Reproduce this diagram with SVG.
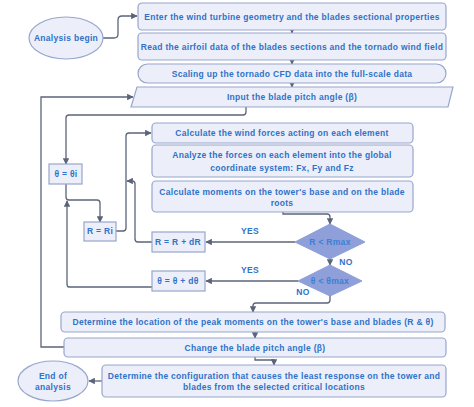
<svg xmlns="http://www.w3.org/2000/svg" width="474" height="407" viewBox="0 0 474 407">
<defs>
<style>
.b{fill:#eceff9;stroke:#98a6cc;stroke-width:1.2}
.d{fill:#8e9fd9;stroke:#8e9fd9}
.t{font-family:"Liberation Sans",Arial,sans-serif;font-weight:bold;font-size:8.5px;letter-spacing:0.3px;fill:#2f72c8;text-anchor:middle;dominant-baseline:central}
.dt{fill:#3b7fd6}
.c{fill:none;stroke:#5b6479;stroke-width:1.3}
.l{font-family:"Liberation Sans",Arial,sans-serif;font-weight:bold;font-size:8.5px;letter-spacing:0.3px;fill:#2f72c8;text-anchor:middle;dominant-baseline:central}
</style>
<marker id="a" viewBox="0 0 10 10" refX="9" refY="5" markerWidth="5" markerHeight="5" orient="auto"><path d="M0,0L10,5L0,10z" fill="#5b6479"/></marker>
</defs>
<rect width="474" height="407" fill="#ffffff"/>
<g id="connectors">
<path class="c" d="M103,38H114Q118,38 118,34V20Q118,16 122,16H137" marker-end="url(#a)"/>
<path class="c" d="M292,30V33" marker-end="url(#a)"/>
<path class="c" d="M292,60V64" marker-end="url(#a)"/>
<path class="c" d="M292,83V87" marker-end="url(#a)"/>
<path class="c" d="M64,347H41V97H133" marker-end="url(#a)"/>
<path class="c" d="M246,107V112Q246,115 243,115H69Q66,115 66,118V164" marker-end="url(#a)"/>
<path class="c" d="M66,184V197Q66,200 69,200H97Q100,200 100,203V222" marker-end="url(#a)"/>
<path class="c" d="M116,231H123Q126,231 126,228V136Q126,133 129,133H151" marker-end="url(#a)"/>
<path class="c" d="M152,242H138Q135,242 135,239V184Q135,181 132,181H127" marker-end="url(#a)"/>
<path class="c" d="M160,287H69Q67,287 67,284V201" marker-end="url(#a)"/>
<path class="c" d="M283,212V214H327Q330,214 330,217V224" marker-end="url(#a)"/>
<path class="c" d="M295,242H206" marker-end="url(#a)"/>
<path class="c" d="M330,259V265" marker-end="url(#a)"/>
<path class="c" d="M298,281H206" marker-end="url(#a)"/>
<path class="c" d="M330,295V300Q330,303 327,303H256Q253,303 253,306V312" marker-end="url(#a)"/>
<path class="c" d="M255,332V338" marker-end="url(#a)"/>
<path class="c" d="M255,357V360H274V365" marker-end="url(#a)"/>
<path class="c" d="M102,381H89" marker-end="url(#a)"/>
<text class="l" x="250" y="231">YES</text>
<text class="l" x="346" y="262">NO</text>
<text class="l" x="250" y="270">YES</text>
<text class="l" x="303" y="292">NO</text>
</g>
<g id="start"><ellipse class="b" cx="66" cy="38" rx="37" ry="21"/><text class="t" x="66" y="38">Analysis begin</text></g>
<g id="n1"><rect class="b" x="138" y="3" width="308" height="27" rx="4"/><text class="t" x="292" y="17">Enter the wind turbine geometry and the blades sectional properties</text></g>
<g id="n2"><rect class="b" x="138" y="33" width="308" height="27" rx="4"/><text class="t" x="292" y="47">Read the airfoil data of the blades sections and the tornado wind field</text></g>
<g id="n3"><rect class="b" x="138" y="64" width="308" height="19" rx="9.5"/><text class="t" x="292" y="74">Scaling up the tornado CFD data into the full-scale data</text></g>
<g id="n4"><polygon class="b" points="137,87 453,87 448,107 131,107"/><text class="t" x="292" y="97">Input the blade pitch angle (β)</text></g>
<g id="n5"><rect class="b" x="152" y="123" width="261" height="20" rx="4"/><text class="t" x="282" y="133">Calculate the wind forces acting on each element</text></g>
<g id="n6"><rect class="b" x="152" y="145" width="261" height="32" rx="4"/><text class="t" x="282" y="155">Analyze the forces on each element into the global</text><text class="t" x="282" y="168">coordinate system: Fx, Fy and Fz</text></g>
<g id="n7"><rect class="b" x="152" y="181" width="261" height="31" rx="4"/><text class="t" x="282" y="192">Calculate moments on the tower's base and on the blade</text><text class="t" x="282" y="203">roots</text></g>
<g id="n8"><rect class="b" x="49" y="164" width="33" height="20"/><text class="t" x="66" y="174">θ = θi</text></g>
<g id="n9"><rect class="b" x="84" y="222" width="32" height="19"/><text class="t" x="100" y="231">R = Ri</text></g>
<g id="n10"><rect class="b" x="152" y="232" width="53" height="20"/><text class="t" x="178" y="242">R = R + dR</text></g>
<g id="n11"><polygon class="d" points="330,224 365,242 330,259 295,242"/><text class="t dt" x="330" y="242">R &lt; Rmax</text></g>
<g id="n12"><polygon class="d" points="330,265 362,281 330,296 298,281"/><text class="t dt" x="330" y="281">θ &lt; θmax</text></g>
<g id="n13"><rect class="b" x="152" y="271" width="53" height="20"/><text class="t" x="178" y="281">θ = θ + dθ</text></g>
<g id="n14"><rect class="b" x="61" y="312" width="384" height="20" rx="4"/><text class="t" x="253" y="322">Determine the location of the peak moments on the tower's base and blades (R &amp; θ)</text></g>
<g id="n15"><rect class="b" x="64" y="338" width="382" height="19" rx="4"/><text class="t" x="255" y="348">Change the blade pitch angle (β)</text></g>
<g id="n16"><rect class="b" x="102" y="365" width="344" height="32" rx="4"/><text class="t" x="274" y="376">Determine the configuration that causes the least response on the tower and</text><text class="t" x="274" y="387">blades from the selected critical locations</text></g>
<g id="end"><ellipse class="b" cx="53" cy="381" rx="35" ry="20"/><text class="t" x="53" y="376">End of</text><text class="t" x="53" y="387">analysis</text></g>
</svg>
